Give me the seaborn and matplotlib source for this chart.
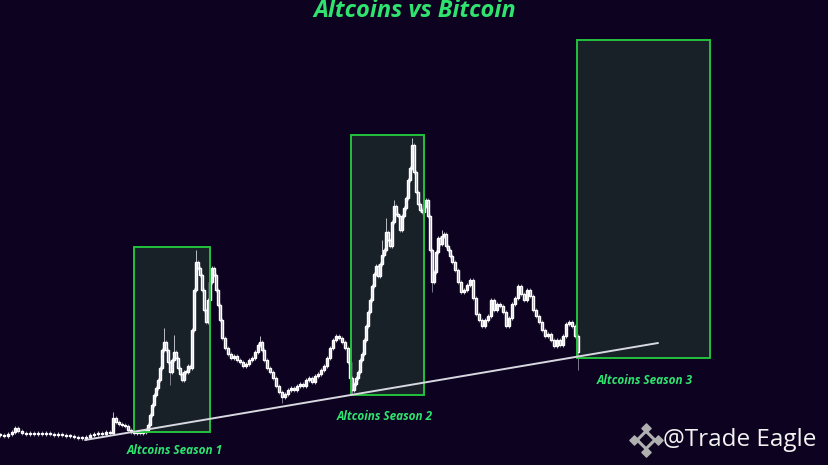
import numpy as np
import pandas as pd
import matplotlib.pyplot as plt
import seaborn as sns
from matplotlib.patches import Rectangle

# price trace (time, close)
t = [0, 4, 8, 12, 15, 18, 22, 26, 30, 34, 38, 42, 46, 50, 54, 58, 62, 66, 70, 74,
     78, 82, 86, 90, 94, 98, 102, 106, 110, 113, 116, 119, 122, 125, 128, 131, 134, 137, 140, 143,
     146, 148, 150, 152, 154, 156, 158, 160, 162, 164, 166, 168, 170, 172, 174, 176, 178, 180, 182, 184,
     186, 188, 190, 192, 194, 196, 198, 200, 202, 204, 206, 208, 210, 212, 214, 216, 218, 220, 222, 225,
     228, 231, 234, 237, 240, 243, 246, 249, 252, 255, 258, 260, 262, 264, 267, 270, 273, 276, 279, 282,
     285, 288, 291, 294, 297, 300, 303, 306, 309, 312, 315, 318, 321, 324, 327, 330, 333, 336, 339, 342,
     345, 348, 350, 352, 354, 356, 358, 360, 362, 364, 366, 368, 370, 372, 374, 376, 378, 380, 382, 384,
     386, 388, 390, 392, 394, 396, 398, 400, 402, 404, 406, 408, 410, 412, 414, 416, 418, 420, 422, 424,
     426, 428, 430, 432, 434, 436, 438, 440, 442, 444, 446, 448, 450, 452, 455, 458, 461, 464, 467, 470,
     473, 476, 479, 482, 485, 488, 491, 494, 497, 500, 503, 506, 509, 512, 515, 518, 521, 524, 527, 530,
     533, 536, 539, 542, 545, 548, 551, 554, 557, 560, 563, 566, 569, 572, 575, 578]
close = [30, 29, 31, 33, 37, 34, 32, 31, 32, 31, 32, 31, 32, 31, 30, 31, 30, 29, 29, 28,
         27, 27, 28, 30, 31, 32, 31, 33, 32, 47, 43, 41, 40, 39, 35, 33, 32, 33, 32, 33,
         35, 40, 50, 60, 70, 77, 85, 97, 115, 123, 115, 103, 93, 105, 113, 107, 97, 91, 85, 93,
         93, 99, 97, 135, 175, 203, 197, 190, 175, 155, 143, 165, 183, 197, 190, 175, 160, 145, 127, 117,
         111, 107, 109, 105, 103, 99, 101, 105, 107, 113, 120, 123, 115, 105, 97, 93, 87, 79, 73, 68,
         71, 75, 77, 75, 79, 81, 79, 85, 87, 83, 89, 91, 95, 99, 107, 117, 125, 129, 127, 123,
         117, 103, 87, 75, 81, 87, 93, 105, 111, 125, 139, 153, 165, 179, 191, 199, 189, 201, 210, 215,
         233, 225, 219, 243, 259, 251, 249, 235, 249, 257, 267, 285, 297, 320, 293, 273, 261, 255, 253, 259,
         265, 249, 215, 183, 193, 213, 227, 221, 229, 231, 219, 215, 209, 203, 195, 183, 173, 175, 180, 185,
         167, 151, 145, 139, 145, 149, 165, 155, 161, 159, 153, 139, 147, 161, 167, 179, 171, 165, 175, 169,
         155, 149, 143, 135, 129, 131, 125, 119, 125, 120, 129, 141, 143, 139, 129, 113]

# long wicks
wick_hi = {113: 53, 164: 137, 174: 130, 196: 215, 260: 129, 382: 225, 386: 247, 412: 327,
           226: 125, 394: 265, 442: 235}
wick_lo = {352: 70, 432: 173, 578: 95, 150: 38, 170: 80, 282: 62}

# altcoin seasons (start, end, bottom, top)
seasons = ["Altcoins Season 1", "Altcoins Season 2", "Altcoins Season 3"]
box_x0 = [134, 351, 577]
box_x1 = [210, 424, 710]
box_y0 = [33, 70, 107]
box_y1 = [218, 330, 425]
label_x = [175, 385, 645]
label_y = [15, 49, 85]

# support line
trend_t = [85, 658]
trend_v = [25, 122]

bg = "#0d0320"
green_edge = "#22c23c"
green_text = "#2fe36f"

sns.set_theme(style="dark")
plt.rcParams["font.family"] = ["Open Sans", "DejaVu Sans"]

fig = plt.figure(figsize=(8.29, 4.65), dpi=100)
fig.patch.set_facecolor(bg)
ax = fig.add_axes([0, 0, 1, 1])
ax.set_facecolor(bg)
ax.set_xlim(0, 829)
ax.set_ylim(0, 465)
ax.set_axis_off()

# boxes behind candles
for x0, x1, y0, y1 in zip(box_x0, box_x1, box_y0, box_y1):
    ax.add_patch(Rectangle((x0, y0), x1 - x0, y1 - y0, facecolor="#182028",
                           edgecolor="none", zorder=1))

# candles
df = pd.DataFrame({"t": t, "close": close})
df["open"] = df["close"].shift(1).fillna(df["close"])
up = df["close"] >= df["open"]
body_lo = df[["open", "close"]].min(axis=1)
body_hi = df[["open", "close"]].max(axis=1)
hi = [wick_hi.get(tt, h + 2) for tt, h in zip(df["t"], body_hi)]
lo = [wick_lo.get(tt, l - 2) for tt, l in zip(df["t"], body_lo)]
colors = np.where(up, "#d6d6e0", "#8e8ea0")
ax.vlines(df["t"], lo, hi, colors=colors, lw=0.6, zorder=2)
ax.bar(df["t"], (body_hi - body_lo).clip(lower=1.2), bottom=body_lo, width=1.6,
       color=colors, zorder=3)

# box outlines
for x0, x1, y0, y1 in zip(box_x0, box_x1, box_y0, box_y1):
    ax.add_patch(Rectangle((x0, y0), x1 - x0, y1 - y0, facecolor="none",
                           edgecolor=green_edge, lw=1.4, zorder=4))

sns.lineplot(x=trend_t, y=trend_v, ax=ax, color="#d8d8e0", lw=1.4, zorder=5)

for name, lx, ly in zip(seasons, label_x, label_y):
    ax.text(lx, ly, name, color=green_text, fontsize=8.5, fontweight="bold",
            fontstyle="italic", ha="center", va="center", zorder=6)

ax.text(415, 448, "Altcoins vs Bitcoin", color=green_text, fontsize=17,
        fontweight="bold", fontstyle="italic", ha="center", va="baseline")

# watermark
ax.scatter([646], [25], marker="D", s=80, facecolor="none", edgecolor="#b0b0b0", lw=2.2, zorder=6)
ax.scatter([634, 658], [25, 25], marker="D", s=22, color="#b0b0b0", zorder=6)
ax.scatter([646, 646], [37, 13], marker="D", s=22, color="#b0b0b0", zorder=6)
ax.text(663, 25, "@Trade Eagle", color="#f2f2f2", fontsize=17.5, ha="left", va="center", zorder=6)

fig.savefig("out.png", dpi=100, facecolor=bg)
